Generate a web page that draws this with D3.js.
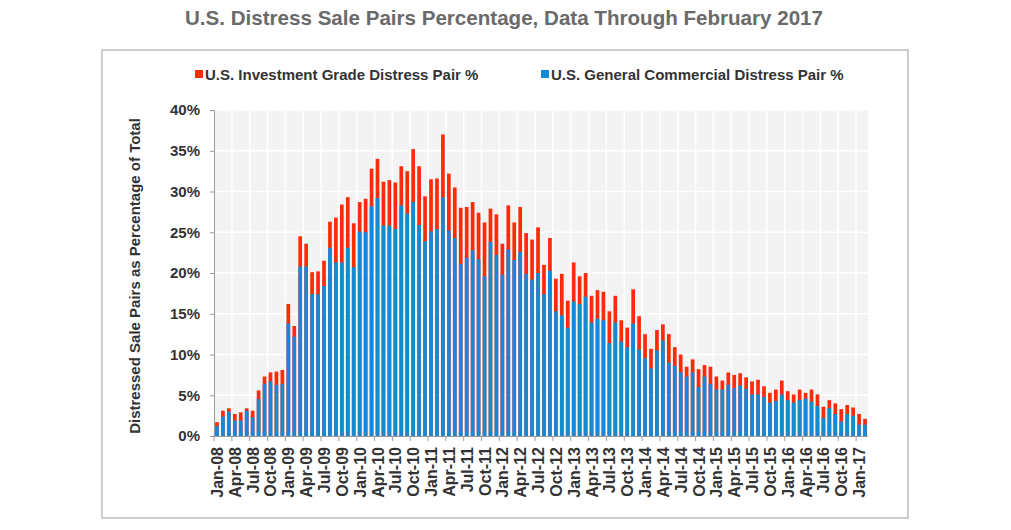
<!DOCTYPE html>
<html lang="en">
<head>
<meta charset="utf-8">
<title>U.S. Distress Sale Pairs Percentage</title>
<script src="https://cdn.jsdelivr.net/npm/d3@7"></script>
<style>
  body { margin: 0; background: #fff; }
  text { font-family: "Liberation Sans", Arial, sans-serif; }
</style>
</head>
<body>
<script>
// monthly from Jan-08 through Feb-17
var months = d3.timeMonths(new Date(2008, 0, 1), new Date(2017, 2, 1)).map(d3.timeFormat("%b-%y"));

// investment grade distress pair % (red)
var investGrade = [1.7, 3.1, 3.4, 2.7, 2.9, 3.4, 3.1, 5.6, 7.3, 7.8, 7.9, 8.1,
  16.2, 13.5, 24.5, 23.6, 20.1, 20.2, 21.5, 26.3, 26.8, 28.4, 29.3, 26.1,
  28.7, 29.1, 32.8, 34.0, 31.2, 31.4, 31.1, 33.1, 32.5, 35.2, 33.1, 29.4,
  31.5, 31.6, 37.0, 32.2, 30.5, 28.0, 28.1, 28.7, 27.4, 26.2, 27.9, 27.2,
  23.6, 28.3, 26.2, 28.1, 24.9, 24.1, 25.6, 21.0, 24.3, 19.3, 19.9, 16.6,
  21.3, 19.6, 20.0, 17.2, 17.9, 17.7, 15.3, 17.2, 14.2, 13.3, 18.0, 14.7,
  12.5, 10.7, 13.0, 13.7, 12.5, 10.9, 10.0, 8.5, 9.4, 8.2, 8.7, 8.5,
  7.3, 6.8, 7.8, 7.5, 7.7, 7.2, 6.7, 6.9, 6.1, 5.3, 5.7, 6.8,
  5.5, 5.1, 5.7, 5.3, 5.7, 5.1, 3.6, 4.4, 4.0, 3.3, 3.8, 3.5,
  2.7, 2.1];

// general commercial distress pair % (blue)
var generalComm = [1.2, 2.4, 3.0, 1.9, 1.9, 3.1, 2.3, 4.5, 6.4, 6.7, 6.3, 6.4,
  13.8, 12.2, 20.8, 20.8, 17.4, 17.4, 18.4, 23.1, 21.3, 21.3, 23.1, 20.7,
  25.1, 25.0, 28.2, 29.2, 25.8, 25.8, 25.4, 28.3, 27.3, 28.7, 25.9, 23.9,
  25.1, 25.4, 29.3, 25.2, 24.3, 21.1, 21.9, 22.8, 21.7, 19.6, 23.8, 22.2,
  19.8, 22.9, 21.6, 22.6, 19.9, 19.2, 20.0, 17.4, 20.3, 15.3, 14.8, 13.3,
  16.5, 16.2, 17.1, 13.9, 14.4, 14.2, 11.4, 13.9, 11.6, 10.9, 13.8, 10.6,
  9.6, 8.3, 10.5, 11.7, 9.0, 8.6, 7.8, 7.3, 7.8, 6.0, 7.3, 6.4,
  5.7, 5.7, 6.3, 5.9, 6.2, 5.8, 5.1, 5.1, 4.8, 4.1, 4.3, 5.1,
  4.4, 4.1, 4.4, 4.6, 4.2, 3.7, 2.2, 3.4, 2.7, 1.8, 2.7, 2.5,
  1.4, 1.4];

var tickLabels = ["Jan-08", "Apr-08", "Jul-08", "Oct-08", "Jan-09", "Apr-09", "Jul-09", "Oct-09",
  "Jan-10", "Apr-10", "Jul-10", "Oct-10", "Jan-11", "Apr-11", "Jul-11", "Oct-11",
  "Jan-12", "Apr-12", "Jul-12", "Oct-12", "Jan-13", "Apr-13", "Jul-13", "Oct-13",
  "Jan-14", "Apr-14", "Jul-14", "Oct-14", "Jan-15", "Apr-15", "Jul-15", "Oct-15",
  "Jan-16", "Apr-16", "Jul-16", "Oct-16", "Jan-17"];

var yTicks = [0, 5, 10, 15, 20, 25, 30, 35, 40];

var seriesNames = ["U.S. Investment Grade Distress Pair %", "U.S. General Commercial Distress Pair %"];
var colors = ["#ff2a0a", "#1589d5"];

var w = 1011, h = 530;
var svg = d3.select("body").append("svg").attr("width", w).attr("height", h);

// title
svg.append("text")
  .attr("x", 504).attr("y", 25)
  .attr("text-anchor", "middle")
  .attr("textLength", 638).attr("lengthAdjust", "spacingAndGlyphs")
  .style("font-size", "21px").style("font-weight", "bold").style("fill", "#6a6a6a")
  .text("U.S. Distress Sale Pairs Percentage, Data Through February 2017");

// outer frame
svg.append("rect")
  .attr("x", 102).attr("y", 50).attr("width", 806).attr("height", 468)
  .attr("fill", "none").attr("stroke", "#bdbdbd").attr("stroke-width", 1.5);

var plot = { left: 214, right: 868, top: 110, bottom: 436 };

var x = d3.scaleBand()
  .domain(months)
  .range([plot.left, plot.right])
  .paddingInner(0.38).paddingOuter(0.19);

var y = d3.scaleLinear().domain([0, 40]).range([plot.bottom, plot.top]);

// plot background
svg.append("rect")
  .attr("x", plot.left).attr("y", plot.top)
  .attr("width", plot.right - plot.left).attr("height", plot.bottom - plot.top)
  .attr("fill", "#f3f3f3");

var step = x.step();
var x0 = x.range()[0];

// vertical gridlines every quarter
var quarters = d3.range(3, months.length, 3);
svg.append("g").selectAll("line")
  .data(quarters).enter().append("line")
  .attr("x1", function(i) { return x0 + i * step; })
  .attr("x2", function(i) { return x0 + i * step; })
  .attr("y1", plot.top).attr("y2", plot.bottom)
  .attr("stroke", "#fff").attr("stroke-width", 1.5);

// horizontal gridlines
svg.append("g").selectAll("line")
  .data(yTicks.slice(1)).enter().append("line")
  .attr("x1", plot.left).attr("x2", plot.right)
  .attr("y1", function(d) { return y(d); }).attr("y2", function(d) { return y(d); })
  .attr("stroke", "#fff").attr("stroke-width", 1.5);

// bars: red behind, blue in front
var bars = svg.append("g");
bars.selectAll("rect.ig")
  .data(investGrade).enter().append("rect")
  .attr("class", "ig")
  .attr("x", function(d, i) { return x(months[i]); })
  .attr("width", x.bandwidth())
  .attr("y", function(d) { return y(d); })
  .attr("height", function(d) { return y(0) - y(d); })
  .attr("fill", colors[0]);

bars.selectAll("rect.gc")
  .data(generalComm).enter().append("rect")
  .attr("class", "gc")
  .attr("x", function(d, i) { return x(months[i]); })
  .attr("width", x.bandwidth())
  .attr("y", function(d) { return y(d); })
  .attr("height", function(d) { return y(0) - y(d); })
  .attr("fill", colors[1]);

// y axis
var yAxis = svg.append("g")
  .attr("transform", "translate(" + plot.left + ",0)")
  .call(d3.axisLeft(y).tickValues(yTicks).tickSize(4).tickPadding(10)
    .tickFormat(function(d) { return d + "%"; }));
yAxis.select(".domain").attr("stroke", "#9a9a9a");
yAxis.selectAll(".tick line").attr("stroke", "#9a9a9a");
yAxis.selectAll(".tick text")
  .style("font-size", "15px").style("font-weight", "bold")
  .style("font-family", "'Liberation Sans', Arial, sans-serif").attr("fill", "#333");

// x axis: tick marks at quarter boundaries
var xAxisG = svg.append("g");
xAxisG.append("line")
  .attr("x1", plot.left).attr("x2", plot.right)
  .attr("y1", plot.bottom + 0.5).attr("y2", plot.bottom + 0.5)
  .attr("stroke", "#9a9a9a");
xAxisG.selectAll("line.tk")
  .data(d3.range(0, months.length + 1, 3)).enter().append("line")
  .attr("class", "tk")
  .attr("x1", function(i) { return x0 + i * step; })
  .attr("x2", function(i) { return x0 + i * step; })
  .attr("y1", plot.bottom).attr("y2", plot.bottom + 5)
  .attr("stroke", "#9a9a9a");

xAxisG.selectAll("text")
  .data(tickLabels).enter().append("text")
  .attr("transform", function(d) {
    var cx = x(d) + x.bandwidth() / 2;
    return "translate(" + (cx + 6) + "," + (plot.bottom + 11) + ") rotate(-90)";
  })
  .attr("text-anchor", "end")
  .style("font-size", "16px").style("font-weight", "bold").style("fill", "#333")
  .text(function(d) { return d; });

// y axis title
svg.append("text")
  .attr("transform", "translate(140,276) rotate(-90)")
  .attr("text-anchor", "middle")
  .style("font-size", "15px").style("font-weight", "bold").style("fill", "#333")
  .text("Distressed Sale Pairs as Percentage of Total");

// legend
var legendX = [195, 541];
var legend = svg.append("g").selectAll("g")
  .data(seriesNames).enter().append("g")
  .attr("transform", function(d, i) { return "translate(" + legendX[i] + ",70)"; });
legend.append("rect")
  .attr("width", 8).attr("height", 8)
  .attr("fill", function(d, i) { return colors[i]; });
legend.append("text")
  .attr("x", 10).attr("y", 10)
  .style("font-size", "15px").style("font-weight", "bold").style("fill", "#333")
  .text(function(d) { return d; });
</script>
</body>
</html>
